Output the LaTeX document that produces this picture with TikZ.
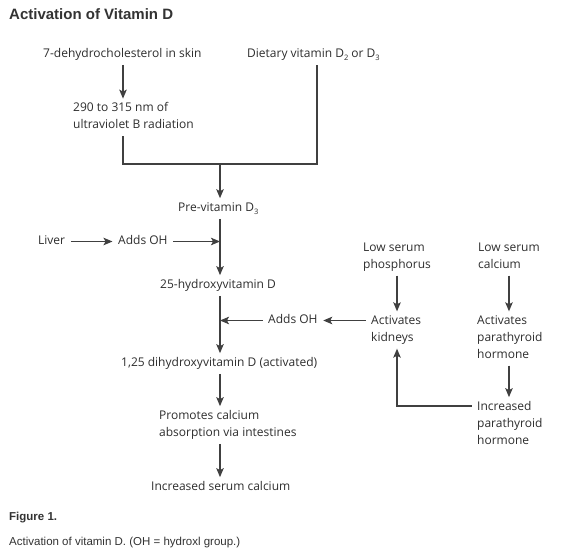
\documentclass[tikz,border=0pt]{standalone}
\usepackage{fontspec}
\usetikzlibrary{arrows.meta}
\newfontfamily\diagf{Open Sans}
\newfontfamily\arialf{Liberation Sans}
\definecolor{txtc}{HTML}{2E2E2E}
\definecolor{linec}{HTML}{404040}
\definecolor{titlec}{HTML}{333333}
\newcommand\stt{\rule[-3.2pt]{0pt}{12.2pt}}
\newcommand\dsub[1]{\raisebox{-3pt}{\fontsize{7.5}{8}\selectfont #1}}
\tikzset{
  lbl/.style={inner xsep=5.5pt, inner ysep=4pt, align=left, anchor=west, yshift=-1.5pt,
    font=\diagf\fontsize{12}{17}\selectfont, text=txtc,
    execute at begin node=\stt, execute at end node=\stt},
  ln/.style={draw=linec, line width=1.2pt},
  arr/.style={ln, -{Stealth[length=9pt,width=7.5pt,inset=2pt]}},
}
\begin{document}
\begin{tikzpicture}[x=1pt,y=-1pt]
\useasboundingbox[fill=white] (0,0) rectangle (567,553);
% title
\node[anchor=west, inner sep=0, text=titlec, font=\arialf\bfseries\fontsize{15}{18}\selectfont] (title) at (9,14) {Activation of Vitamin D};
% nodes
\node[lbl] (t7dhc) at (37.5,53) {7-dehydrocholesterol in skin};
\node[lbl] (diet) at (241.5,53) {Dietary vitamin D\dsub{2} or D\dsub{3}};
\node[lbl] (uvb) at (67.5,116) {290 to 315 nm of\\ultraviolet B radiation};
\node[lbl] (previt) at (172.5,207) {Pre-vitamin D\dsub{3}};
\node[lbl] (liver) at (32.5,240) {Liver};
\node[lbl] (addoh1) at (112.5,240) {Adds OH};
\node[lbl] (h25) at (154.5,284) {25-hydroxyvitamin D};
\node[lbl] (addoh2) at (262.5,319) {Adds OH};
\node[lbl] (phos) at (357.5,255.5) {Low serum\\phosphorus};
\node[lbl] (calc) at (472.5,255.5) {Low serum\\calcium};
\node[lbl] (kidneys) at (365.5,328.5) {Activates\\kidneys};
\node[lbl] (pth) at (471.5,337) {Activates\\parathyroid\\hormone};
\node[lbl] (d125) at (115.5,362) {1,25 dihydroxyvitamin D (activated)};
\node[lbl] (incpth) at (471.5,423) {Increased\\parathyroid\\hormone};
\node[lbl] (promotes) at (153.5,423.5) {Promotes calcium\\absorption via intestines};
\node[lbl] (incsc) at (145.5,486) {Increased serum calcium};
% caption
\node[anchor=west, inner sep=0, text=titlec, font=\arialf\bfseries\fontsize{11.5}{14}\selectfont] (fig) at (9,518) {Figure 1.};
\node[anchor=west, inner sep=0, text=titlec, font=\arialf\fontsize{11.5}{14}\selectfont] (cap) at (9,543) {Activation of vitamin D. (OH = hydroxl group.)};
% junction coordinates
\coordinate (jl) at (123,164);
\coordinate (jr) at (317,164);
\coordinate (jm) at (220,164);
\coordinate (kfoot) at (397,406);
% connectors
\draw[arr] (t7dhc.south -| jl) -- (uvb.north -| jl);
\draw[ln] (uvb.south -| jl) -- (jl) -- (jr) -- (diet.south -| jr);
\draw[arr] (jm) -- (previt.north -| jm);
\draw[arr] (previt.south -| jm) -- (h25.north -| jm);
\draw[arr] (liver.east) -- (addoh1.west);
\draw[arr] (addoh1.east) -- (addoh1.east -| jm);
\draw[arr] (h25.south -| jm) -- (d125.north -| jm);
\draw[arr] (addoh2.west) -- (addoh2.west -| jm);
\draw[arr] (kidneys.west |- addoh2.east) -- (addoh2.east);
\draw[arr] (phos.south) -- (phos.south |- kidneys.north);
\draw[arr] (calc.south) -- (calc.south |- pth.north);
\draw[arr] (pth.south -| calc.south) -- (incpth.north -| calc.south);
\draw[arr] (incpth.west |- kfoot) -- (kfoot) -- (kidneys.south -| kfoot);
\draw[arr] (d125.south -| jm) -- (promotes.north -| jm);
\draw[arr] (promotes.south -| jm) -- (incsc.north -| jm);
\end{tikzpicture}
\end{document}
